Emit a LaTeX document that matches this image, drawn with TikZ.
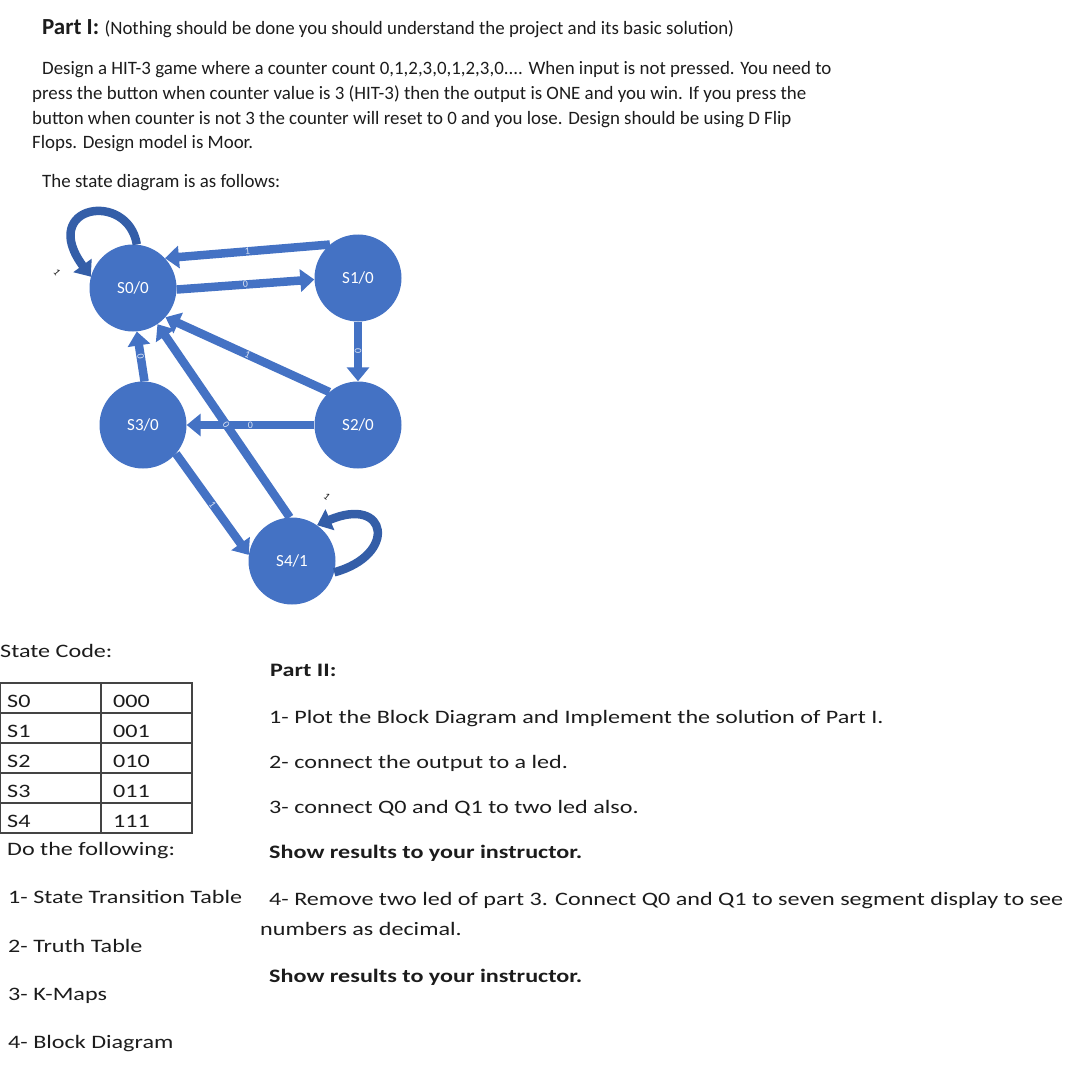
\documentclass[tikz,border=0pt]{standalone}
\usepackage{fontspec}
\setmainfont{Carlito}
\usetikzlibrary{positioning,arrows.meta}
\definecolor{StateBlue}{HTML}{4472C4}
\definecolor{LoopBlue}{HTML}{345EA8}
\definecolor{InkGray}{HTML}{1C1C1C}
\definecolor{RuleGray}{HTML}{444444}
\newcommand{\widetxt}[1]{\scalebox{1.27}[1]{#1}}

\begin{document}
\begin{tikzpicture}[x=1pt,y=-1pt,
        state/.style={circle, fill=StateBlue, minimum size=87pt, inner sep=0pt,
          text=white, font=\fontsize{17}{17}\selectfont},
        trans/.style={draw=StateBlue, line width=8.5pt, -{Triangle[width=22pt,length=14pt]}},
        selfloop/.style={trans, draw=LoopBlue},
        edgelab/.style={font=\fontsize{10}{10}\selectfont, text=white!80!StateBlue, inner sep=0pt, sloped},
        looplab/.style={font=\fontsize{10}{10}\selectfont, text=InkGray},
        txt/.style={anchor=base west, inner sep=0pt, text=InkGray, font=\fontsize{18.9}{22}\selectfont},
        low/.style={txt, font=\fontsize{19}{22}\selectfont},
        head/.style={txt, font=\fontsize{23}{26}\selectfont\bfseries},
        boldtxt/.style={txt, font=\fontsize{19}{22}\selectfont\bfseries},
        tabline/.style={draw=RuleGray, line width=1.2pt},
      ]
      \useasboundingbox (0,0) rectangle (1080,1091);
      % Part I
      \node[head] (title) at (42,35) {Part I:};
      \node[txt] (note) at ([xshift=5pt]title.base east) {(Nothing should be done you should understand the project and its basic solution)};
      \node[txt] (intro1) at (42,75) {Design a HIT-3 game where a counter count 0,1,2,3,0,1,2,3,0.... When input is not pressed. You need to};
      \node[txt] (intro2) at (32,100) {press the button when counter value is 3 (HIT-3) then the output is ONE and you win. If you press the};
      \node[txt] (intro3) at (32,125) {button when counter is not 3 the counter will reset to 0 and you lose. Design should be using D Flip};
      \node[txt] (intro4) at (32,149) {Flops. Design model is Moor.};
      \node[txt] (follows) at (42,188) {The state diagram is as follows:};

      % state diagram
      \node[state] (s0) at (133,288) {S0/0};
      \node[state] (s1) at (358,278) {S1/0};
      \node[state] (s2) at (358,425) {S2/0};
      \node[state] (s3) at (143,425) {S3/0};
      \node[state] (s4) at (292,561) {S4/1};
      \draw[trans] (s1.130) -- node[edgelab] {1} (s0.43);
      \draw[trans] (s0.-2) -- node[edgelab] {0} (s1.182);
      \draw[trans] (s1.270) -- node[edgelab] {0} (s2.90);
      \draw[trans] (s2.131) -- node[edgelab] {1} (s0.-42);
      \draw[trans] (s2.180) -- node[edgelab] {0} (s3.0);
      \draw[trans] (s3.88) -- node[edgelab] {0} (s0.-85);
      \draw[trans] (s4.93) -- node[edgelab, pos=0.48] {0} (s0.-56);
      \draw[trans] (s3.-41) -- node[edgelab] {1} (s4.172);
      \draw[selfloop] (s0.85) .. controls (128,190) and (38,205) .. (s0.165);
      \draw[selfloop] (s4.-15) .. controls (398,555) and (388,495) .. (s4.55);
      \node[looplab, rotate=-50] (lab0) at (57,272) {1};
      \node[looplab, rotate=-40] (lab4) at (327,497) {1};

      % state code table
      \node[low] (code) at (0,657) {\widetxt{State Code:}};
      \draw[tabline] (0.5,683) rectangle (192,833);
      \draw[tabline] (101,683) -- (101,833);
      \foreach \st/\bits [count=\i from 0] in {S0/000,S1/001,S2/010,S3/011,S4/111} {
        \draw[tabline] (0,683+30*\i) -- (192,683+30*\i);
        \node[low] (st\i) at (7,707+30*\i) {\widetxt{\st}};
        \node[low] (bits\i) at (113,707+30*\i) {\widetxt{\bits}};
      }
      \node[low] (todo) at (7,855) {\widetxt{Do the following:}};
      \node[low] (todo1) at (8,903) {\widetxt{1- State Transition Table}};
      \node[low] (todo2) at (8,952) {\widetxt{2- Truth Table}};
      \node[low] (todo3) at (8,1000) {\widetxt{3- K-Maps}};
      \node[low] (todo4) at (8,1048) {\widetxt{4- Block Diagram}};

      % Part II
      \node[boldtxt] (part2) at (270,676) {\widetxt{Part II:}};
      \node[low] (task1) at (269,723) {\widetxt{1- Plot the Block Diagram and Implement the solution of Part I.}};
      \node[low] (task2) at (269,768) {\widetxt{2- connect the output to a led.}};
      \node[low] (task3) at (269,813) {\widetxt{3- connect Q0 and Q1 to two led also.}};
      \node[boldtxt] (show1) at (269,858) {\widetxt{Show results to your instructor.}};
      \node[low] (task4) at (269,905) {\widetxt{4- Remove two led of part 3. Connect Q0 and Q1 to seven segment display to see}};
      \node[low] (task4b) at (260,935) {\widetxt{numbers as decimal.}};
      \node[boldtxt] (show2) at (269,982) {\widetxt{Show results to your instructor.}};
    \end{tikzpicture}
\end{document}
